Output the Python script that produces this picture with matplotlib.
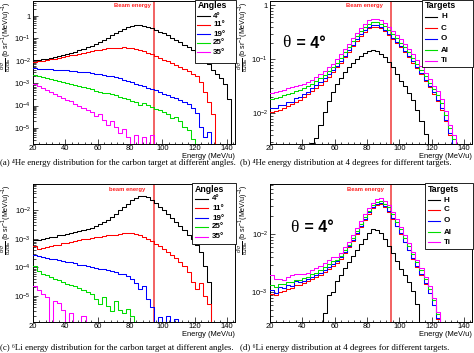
import numpy as np
import matplotlib

matplotlib.use("Agg")

import matplotlib.pyplot as plt
from matplotlib.lines import Line2D
from matplotlib.patches import Rectangle
from matplotlib.ticker import FuncFormatter, LogLocator, MultipleLocator, NullFormatter

nan = float("nan")

# binning (MeV/u) and beam energy
bin_edges = np.arange(20.0, 145.1, 2.5)
beam_energy = 95.0

angle_labels = ["4°", "11°", "19°", "25°", "35°"]
target_labels = ["H", "C", "O", "Al", "Ti"]
line_colors = ["#000000", "#ff0000", "#0000ff", "#00dd00", "#ff00ff"]

# log10 of d2sigma/dOmega dE for each 2.5 MeV/u bin starting at 20 MeV/u (nan = empty bin)
he_c_4deg = [-1.98, -1.96, -1.93, -1.90, -1.87, -1.83, -1.79, -1.75, -1.70, -1.65,
             -1.59, -1.53, -1.47, -1.40, -1.32, -1.24, -1.15, -1.06, -0.96, -0.86,
             -0.76, -0.66, -0.57, -0.49, -0.43, -0.40, -0.40, -0.43, -0.48, -0.55,
             -0.62, -0.70, -0.78, -0.87, -0.96, -1.06, -1.17, -1.28, -1.40, -1.52,
             -1.64, -1.78, -1.93, -2.15, -2.40, -2.60, -2.78, -3.02, -3.70]
he_c_11deg = [-2.05, -2.02, -1.99, -1.96, -1.93, -1.90, -1.87, -1.84, -1.80, -1.76,
              -1.72, -1.68, -1.64, -1.60, -1.56, -1.53, -1.50, -1.47, -1.45, -1.43,
              -1.42, -1.41, -1.40, -1.41, -1.43, -1.46, -1.51, -1.57, -1.64, -1.71,
              -1.79, -1.87, -1.95, -2.02, -2.10, -2.18, -2.27, -2.36, -2.46, -2.57,
              -2.70, -2.95, -3.40, -3.85, -4.40]
he_c_19deg = [-2.34, -2.36, -2.37, -2.38, -2.39, -2.40, -2.41, -2.42, -2.43, -2.45,
              -2.46, -2.48, -2.50, -2.52, -2.55, -2.57, -2.60, -2.63, -2.66, -2.70,
              -2.74, -2.78, -2.84, -2.90, -2.96, -3.02, -3.08, -3.14, -3.20, -3.26,
              -3.32, -3.40, -3.47, -3.53, -3.60, -3.68, -3.76, -3.85, -3.95, -4.10,
              -4.35, -4.95, -5.40, -5.20]
he_c_25deg = [-2.62, -2.67, -2.72, -2.77, -2.82, -2.87, -2.92, -2.97, -3.00, -3.04,
              -3.09, -3.14, -3.19, -3.22, -3.27, -3.33, -3.38, -3.42, -3.45, -3.50,
              -3.55, -3.60, -3.67, -3.73, -3.78, -3.85, -3.97, -3.90, -3.98, -4.08,
              -4.15, -4.22, -4.30, -4.40, -4.55, -4.50, -4.70, -4.95, -5.10, -5.50]
he_c_35deg = [-3.05, -3.13, -3.22, -3.30, -3.40, -3.48, -3.57, -3.66, -3.75, -3.82,
              -3.92, -4.00, -4.10, -4.18, -4.30, -4.45, -4.40, -4.65, -4.85, -4.70,
              -4.95, -5.25, -5.05, -5.40, nan, -5.30, nan, -5.40, nan, -5.30]

he_h_4deg = [nan, nan, nan, nan, nan, nan, nan, nan, nan, nan,
             -2.55, -2.45, -2.22, -1.98, -1.77, -1.60, -1.46, -1.35, -1.24, -1.15,
             -1.06, -0.99, -0.93, -0.88, -0.85, -0.83, -0.85, -0.90, -0.96, -1.05,
             -1.15, -1.28, -1.40, -1.50, -1.62, -1.75, -1.93, -2.15, -2.38, -2.65]
he_o_4deg = [-1.90, -1.91, -1.84, -1.84, -1.80, -1.79, -1.71, -1.69, -1.65, -1.60,
             -1.54, -1.48, -1.42, -1.35, -1.27, -1.19, -1.12, -1.03, -0.93, -0.83,
             -0.73, -0.63, -0.54, -0.46, -0.40, -0.37, -0.37, -0.40, -0.45, -0.53,
             -0.60, -0.68, -0.76, -0.85, -0.94, -1.04, -1.15, -1.26, -1.38, -1.50,
             -1.61, -1.75, -1.90, -2.12, -2.37, -2.57, -2.75, -2.99, -3.67]
he_al_4deg = [-1.73, -1.71, -1.69, -1.67, -1.65, -1.62, -1.59, -1.56, -1.53, -1.50,
              -1.45, -1.40, -1.35, -1.29, -1.22, -1.15, -1.06, -0.97, -0.87, -0.77,
              -0.67, -0.57, -0.48, -0.40, -0.34, -0.31, -0.31, -0.34, -0.39, -0.46,
              -0.53, -0.61, -0.69, -0.78, -0.87, -0.97, -1.08, -1.19, -1.31, -1.43,
              -1.55, -1.66, -1.81, -2.03, -2.28, -2.48, -2.66, -2.90, -3.58]
he_ti_4deg = [-1.62, -1.60, -1.58, -1.56, -1.54, -1.52, -1.50, -1.48, -1.45, -1.42,
              -1.38, -1.33, -1.28, -1.22, -1.15, -1.09, -1.00, -0.91, -0.81, -0.71,
              -0.61, -0.51, -0.42, -0.34, -0.28, -0.25, -0.25, -0.28, -0.33, -0.40,
              -0.47, -0.55, -0.63, -0.72, -0.81, -0.91, -1.02, -1.13, -1.25, -1.37,
              -1.49, -1.59, -1.74, -1.96, -2.21, -2.41, -2.59, -2.83, -3.51]

li_c_4deg = [-3.03, -3.05, -2.99, -2.97, -2.94, -2.92, -2.88, -2.87, -2.84, -2.81,
             -2.77, -2.74, -2.70, -2.65, -2.60, -2.55, -2.49, -2.42, -2.33, -2.23,
             -2.12, -2.00, -1.88, -1.76, -1.65, -1.56, -1.50, -1.49, -1.54, -1.62,
             -1.74, -1.87, -2.00, -2.14, -2.28, -2.42, -2.56, -2.70, -2.85, -3.02,
             -3.22, -3.45, -3.95, -4.50]
li_c_11deg = [-3.25, -3.35, -3.33, -3.27, -3.26, -3.22, -3.20, -3.16, -3.14, -3.10,
              -3.07, -3.05, -3.02, -3.00, -2.97, -2.95, -2.93, -2.90, -2.88, -2.86,
              -2.85, -2.82, -2.80, -2.79, -2.81, -2.84, -2.88, -2.94, -3.01, -3.09,
              -3.17, -3.26, -3.35, -3.45, -3.55, -3.68, -3.80, -3.95, -4.15, -4.50,
              -4.75, -4.55, -5.00, -5.30]
li_c_19deg = [-3.55, -3.60, -3.63, -3.66, -3.69, -3.72, -3.74, -3.78, -3.80, -3.82,
              -3.86, -3.90, -3.92, -3.95, -3.98, -4.02, -4.05, -4.07, -4.10, -4.13,
              -4.16, -4.22, -4.25, -4.32, -4.40, -4.55, -4.75, -4.65, -5.10, -5.40,
              nan, -5.75, nan, -5.70, nan, -5.80]
li_c_25deg = [-3.97, -4.12, -4.22, -4.28, -4.33, -4.40, -4.46, -4.52, -4.58, -4.62,
              -4.66, -4.72, -4.78, -4.88, -4.95, -5.10, -5.30, -5.05, -5.35, -5.55,
              -5.20, -5.50, -5.60, -5.45, -5.70]
li_c_35deg = [-4.65, -4.80, -4.92, -5.05, nan, -5.20, -5.25, -5.50, nan, -5.60,
              nan, nan, -5.70]

li_h_4deg = [nan, nan, nan, nan, nan, nan, nan, nan, nan, nan,
             nan, nan, nan, -3.35, -3.05, -3.00, -2.80, -2.70, -2.58, -2.48,
             -2.37, -2.27, -2.17, -2.08, -1.98, -1.92, -1.93, -1.99, -2.08, -2.20,
             -2.33, -2.47, -2.60, -2.70, -2.82, -2.98, -3.20]
li_o_4deg = [-2.96, -3.01, -2.91, -2.92, -2.88, -2.89, -2.81, -2.82, -2.80, -2.77,
             -2.73, -2.70, -2.66, -2.61, -2.56, -2.51, -2.47, -2.40, -2.31, -2.21,
             -2.10, -1.98, -1.86, -1.74, -1.63, -1.54, -1.48, -1.47, -1.52, -1.61,
             -1.73, -1.86, -1.99, -2.13, -2.27, -2.41, -2.55, -2.69, -2.84, -3.01,
             -3.21, -3.44, -3.94, -4.49]
li_al_4deg = [-2.88, -2.91, -2.86, -2.85, -2.83, -2.82, -2.78, -2.78, -2.76, -2.73,
              -2.69, -2.66, -2.62, -2.57, -2.52, -2.47, -2.44, -2.37, -2.28, -2.18,
              -2.07, -1.95, -1.83, -1.71, -1.60, -1.51, -1.45, -1.44, -1.49, -1.54,
              -1.66, -1.79, -1.92, -2.06, -2.20, -2.34, -2.48, -2.62, -2.77, -2.94,
              -3.14, -3.37, -3.87, -4.42]
li_ti_4deg = [-2.71, -2.77, -2.77, -2.79, -2.74, -2.70, -2.68, -2.69, -2.69, -2.66,
              -2.62, -2.59, -2.55, -2.50, -2.45, -2.40, -2.39, -2.32, -2.23, -2.13,
              -2.02, -1.90, -1.78, -1.66, -1.55, -1.46, -1.40, -1.39, -1.44, -1.50,
              -1.62, -1.75, -1.88, -2.02, -2.16, -2.30, -2.44, -2.58, -2.73, -2.90,
              -3.10, -3.33, -3.83, -4.38]

plt.rcParams["font.family"] = ["Liberation Sans", "DejaVu Sans"]
plt.rcParams["mathtext.fontset"] = "custom"
plt.rcParams["mathtext.rm"] = "Liberation Sans"
plt.rcParams["mathtext.it"] = "Liberation Sans:italic"
plt.rcParams["mathtext.bf"] = "Liberation Sans:bold"

W, H = 474, 353
fig = plt.figure(figsize=(W / 100, H / 100), dpi=100)
fig.patch.set_facecolor("white")


def fx(x):
    return x / W


def fy(y):
    return 1 - y / H


def log_label(v, pos):
    e = int(round(np.log10(v)))
    return "1" if e == 0 else rf"$10^{{{e}}}$"


def make_axes(left, top, bottom, ylim):
    ax = fig.add_axes([fx(left), fy(bottom), 202 / W, (bottom - top) / H])
    ax.set_xlim(20, 145)
    ax.set_yscale("log", nonpositive="clip")
    ax.set_ylim(*ylim)
    ax.xaxis.set_major_locator(MultipleLocator(20))
    ax.xaxis.set_minor_locator(MultipleLocator(4))
    ax.yaxis.set_major_locator(LogLocator(base=10, numticks=20))
    ax.yaxis.set_minor_locator(LogLocator(base=10, subs=np.arange(2, 10), numticks=20))
    ax.yaxis.set_major_formatter(FuncFormatter(log_label))
    ax.yaxis.set_minor_formatter(NullFormatter())
    ax.tick_params(which="both", direction="in", top=False, right=False,
                   labelsize=5.5, width=0.5)
    ax.tick_params(axis="x", pad=1.0)
    ax.tick_params(axis="y", pad=1.5)
    ax.tick_params(which="major", length=3.5)
    ax.tick_params(which="minor", length=1.8)
    for spine in ax.spines.values():
        spine.set_linewidth(0.7)
    ax.axvline(beam_energy, color="#f04848", lw=1.2, zorder=1)
    return ax


def draw_hist(ax, log_values, color):
    vals = np.full(len(bin_edges) - 1, nan)
    vals[:len(log_values)] = log_values
    y = np.where(np.isnan(vals), 0.0, 10.0 ** vals)
    xs = np.repeat(bin_edges, 2)[1:-1]
    ax.plot(xs, np.repeat(y, 2), color=color, lw=0.75, zorder=3)


def draw_legend(box, title, labels, rows, line_x, text_x):
    x0, y0, x1, y1 = box
    fig.add_artist(Rectangle((fx(x0), fy(y1)), (x1 - x0) / W, (y1 - y0) / H,
                             transform=fig.transFigure, fc="white", ec="black",
                             lw=0.6, zorder=10))
    fig.text(fx(x0 + 2.5), fy(rows[0]), title, fontsize=6.3, weight="bold",
             va="center", ha="left", zorder=11)
    for label, color, y in zip(labels, line_colors, rows[1:]):
        fig.add_artist(Line2D([fx(line_x[0]), fx(line_x[1])], [fy(y), fy(y)],
                              transform=fig.transFigure, color=color, lw=0.8, zorder=11))
        fig.text(fx(text_x), fy(y), label, fontsize=5.8, weight="bold",
                 va="center", ha="left", zorder=11)


ylabel = r"$\frac{\mathrm{d^{2}}\sigma}{\mathrm{d}\Omega\mathrm{dE}}$ (b sr$^{-1}$(MeV/u)$^{-1}$)"
caption_kw = dict(fontsize=6.3, family=["Liberation Serif", "DejaVu Serif"], va="center", ha="left")

panels = [
    # left, top, bottom, ylim, series
    (33, 1, 144, (1.9e-6, 4.7),
     [he_c_4deg, he_c_11deg, he_c_19deg, he_c_25deg, he_c_35deg]),
    (270, 1, 144, (2.7e-3, 1.2),
     [he_h_4deg, he_c_4deg, he_o_4deg, he_al_4deg, he_ti_4deg]),
    (33, 184, 322, (1.2e-6, 0.085),
     [li_c_4deg, li_c_11deg, li_c_19deg, li_c_25deg, li_c_35deg]),
    (270, 184, 322, (3.1e-4, 0.072),
     [li_h_4deg, li_c_4deg, li_o_4deg, li_al_4deg, li_ti_4deg]),
]

for left, top, bottom, ylim, series in panels:
    ax = make_axes(left, top, bottom, ylim)
    for vals, color in zip(series, line_colors):
        draw_hist(ax, vals, color)
    fig.text(fx(left - 26.5), fy(top), ylabel, rotation=90, fontsize=5.1,
             ha="center", va="top")
    fig.text(fx(left + 202), fy(bottom + 12.5), "Energy (MeV/u)", fontsize=5.4,
             ha="right", va="center")

# beam energy markers
beam_kw = dict(color="#ff2020", fontsize=4.2, weight="bold", ha="center", va="center")
fig.text(fx(132), fy(6), "Beam energy", **beam_kw)
fig.text(fx(364), fy(5), "Beam energy", **beam_kw)
fig.text(fx(127), fy(189), "beam energy", **beam_kw)
fig.text(fx(365), fy(189), "Beam energy", **beam_kw)

# theta annotations
for x, y in [(282, 43), (290, 228)]:
    fig.text(fx(x), fy(y), "θ", fontsize=12.5, family=["Liberation Serif", "DejaVu Serif"],
             ha="left", va="center")
    fig.text(fx(x + 10), fy(y), " = 4°", fontsize=11.5, weight="bold",
             ha="left", va="center")

# legends
draw_legend((195, 0, 236, 63), "Angles", angle_labels, [6, 16, 25, 34, 43, 52], (197, 210), 213)
draw_legend((422, 0, 473, 67), "Targets", target_labels, [6, 17, 28, 39, 50, 61], (425, 437), 441)
draw_legend((192, 183, 236, 244), "Angles", angle_labels, [189, 199, 208, 218, 227, 237], (195, 208), 212)
draw_legend((425, 183, 473, 249), "Targets", target_labels, [189, 200, 210, 221, 232, 242], (428, 440), 444)

# captions
fig.text(fx(0), fy(163), "(a) ⁴He energy distribution for the carbon target at different angles.", **caption_kw)
fig.text(fx(240), fy(163), "(b) ⁴He energy distribution at 4 degrees for different targets.", **caption_kw)
fig.text(fx(0), fy(348), "(c) ⁶Li energy distribution for the carbon target at different angles.", **caption_kw)
fig.text(fx(240), fy(348), "(d) ⁶Li energy distribution at 4 degrees for different targets.", **caption_kw)

fig.savefig("out.png", dpi=100, facecolor="white")
plt.close(fig)
